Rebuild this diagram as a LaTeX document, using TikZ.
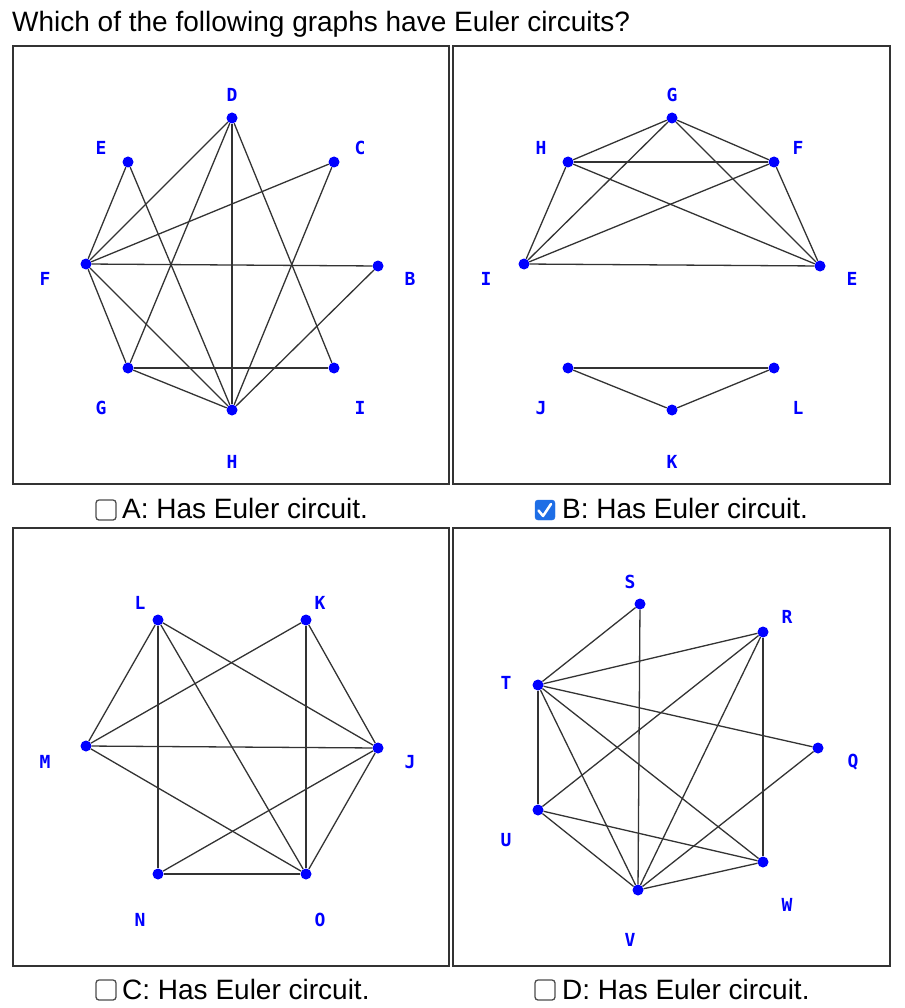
\documentclass[tikz,border=0pt]{standalone}
\usepackage{fontspec}
\setmainfont{Liberation Sans}
\newfontfamily\lblfont{DejaVu Sans Mono}
\definecolor{nb}{RGB}{0,0,255}
\definecolor{cb}{RGB}{30,110,230}
\begin{document}
\begin{tikzpicture}[x=1pt,y=-1pt,
  vtx/.style={circle,fill=nb,inner sep=0pt,minimum size=11pt},
  lbl/.style={text=nb,font=\lblfont\bfseries\fontsize{18}{18}\selectfont,inner sep=0pt},
  edge/.style={draw=black!80,line width=1.3pt},
  frame/.style={draw=black!80,line width=1.8pt},
  captxt/.style={font=\fontsize{28}{32}\selectfont,anchor=west,inner sep=0pt},
  chk/.style={draw=black!70,rounded corners=3pt,line width=1.3pt}]
\useasboundingbox (0,0) rectangle (904,1008);
\node[anchor=west,inner sep=0pt,font=\fontsize{28}{32}\selectfont] (title) at (12,24) {Which of the following graphs have Euler circuits?};
\draw[frame] (13,46) rectangle (449,484);
\draw[frame] (453,46) rectangle (890,484);
\draw[frame] (13,528) rectangle (449,966);
\draw[frame] (453,528) rectangle (890,966);
% Graph A
\foreach \n/\x/\y in {aD/232/118,aE/128/162,aC/334/162,aF/86/264,aB/378/266,aG/128/368,aI/334/368,aH/232/410}
  \node[vtx] (\n) at (\x,\y) {};
\foreach \a/\b in {aD/aF,aD/aG,aD/aH,aD/aI,aE/aF,aE/aH,aF/aC,aF/aB,aF/aG,aF/aH,aG/aI,aG/aH,aH/aC,aH/aB}
  \draw[edge] (\a) -- (\b);
\foreach \t/\x/\y in {D/232/95,E/101/148,C/360/148,F/45/279,B/410/279,G/101/408,I/360/408,H/232/462}
  \node[lbl] (la\t) at (\x,\y) {\t};
% Graph B
\foreach \n/\x/\y in {bG/672/118,bH/568/162,bF/774/162,bI/524/264,bE/820/266,bJ/568/368,bK/672/410,bL/774/368}
  \node[vtx] (\n) at (\x,\y) {};
\foreach \a/\b in {bG/bH,bG/bF,bG/bI,bG/bE,bH/bF,bH/bI,bH/bE,bF/bI,bF/bE,bI/bE,bJ/bL,bJ/bK,bK/bL}
  \draw[edge] (\a) -- (\b);
\foreach \t/\x/\y in {G/672/95,H/541/148,F/798/148,I/486/279,E/852/279,J/541/408,K/672/462,L/798/408}
  \node[lbl] (lb\t) at (\x,\y) {\t};
% Graph C
\foreach \n/\x/\y in {cL/158/620,cK/306/620,cM/86/746,cJ/378/748,cN/158/874,cO/306/874}
  \node[vtx] (\n) at (\x,\y) {};
\foreach \a/\b in {cL/cM,cL/cN,cL/cO,cL/cJ,cK/cM,cK/cO,cK/cJ,cM/cJ,cM/cO,cN/cO,cN/cJ,cJ/cO}
  \draw[edge] (\a) -- (\b);
\foreach \t/\x/\y in {L/140/603,K/320/603,M/45/762,J/410/762,N/140/920,O/320/920}
  \node[lbl] (lc\t) at (\x,\y) {\t};
% Graph D
\foreach \n/\x/\y in {dS/640/604,dR/763/632,dT/538/685,dQ/818/748,dU/538/810,dW/763/862,dV/638/890}
  \node[vtx] (\n) at (\x,\y) {};
\foreach \a/\b in {dS/dT,dS/dV,dR/dT,dR/dU,dR/dV,dR/dW,dT/dQ,dT/dU,dT/dV,dT/dW,dQ/dV,dU/dW,dU/dV,dV/dW}
  \draw[edge] (\a) -- (\b);
\foreach \t/\x/\y in {S/630/582,R/787/617,T/506/683,Q/853/762,U/506/840,W/787/905,V/630/940}
  \node[lbl] (ld\t) at (\x,\y) {\t};
% captions
\draw[chk] (96,500) rectangle (116,520);
\node[captxt] (capA) at (122,508) {A: Has Euler circuit.};
\draw[fill=cb,draw=cb,rounded corners=3pt] (535,500) rectangle (555,520);
\draw[white,line width=2.5pt,line cap=round,line join=round] (538.5,510.5) -- (543,516) -- (551,504);
\node[captxt] (capB) at (562,508) {B: Has Euler circuit.};
\draw[chk] (96,980) rectangle (116,1000);
\node[captxt] (capC) at (122,989) {C: Has Euler circuit.};
\draw[chk] (535,980) rectangle (555,1000);
\node[captxt] (capD) at (562,989) {D: Has Euler circuit.};
\end{tikzpicture}
\end{document}
